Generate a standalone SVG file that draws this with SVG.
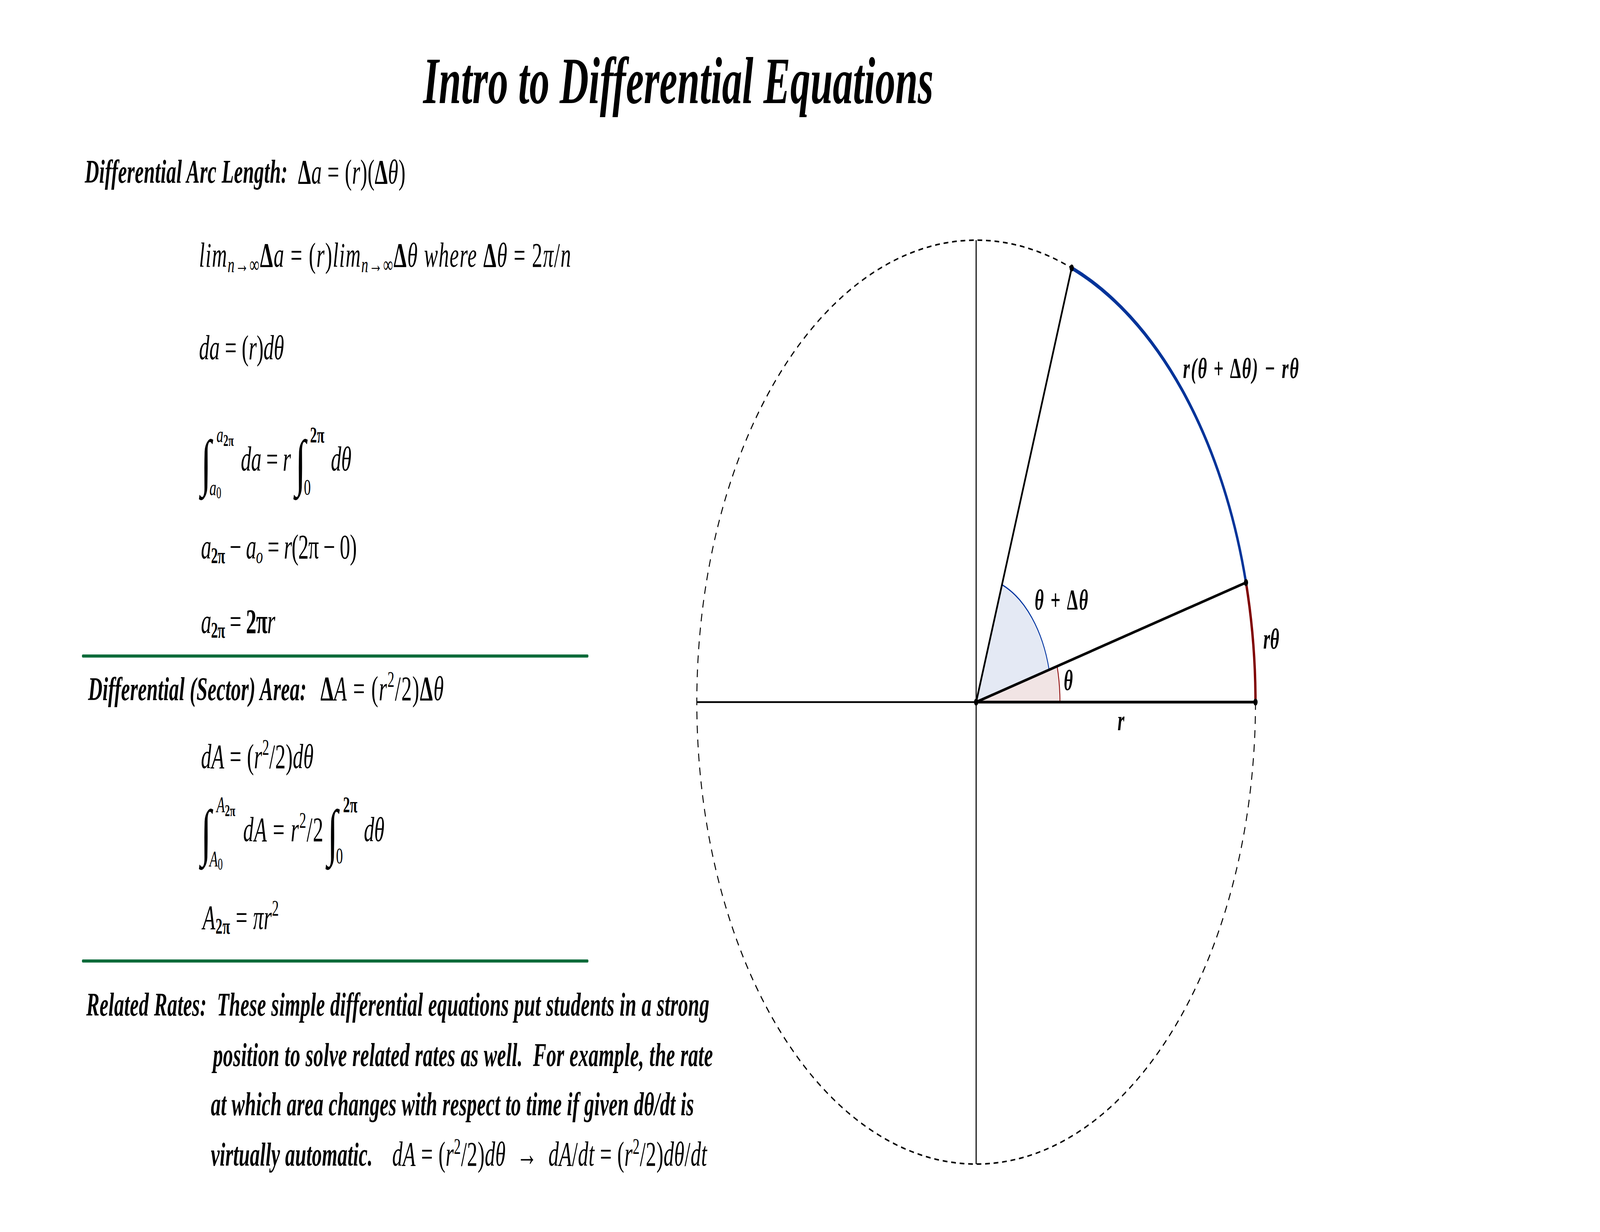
<svg xmlns="http://www.w3.org/2000/svg" width="6776" height="3155" viewBox="0 0 6776 3155" preserveAspectRatio="none" style="width:100vw;height:100vh;display:block">
<style>
text { font-family: "Liberation Serif", "Times New Roman", serif; fill: #000; }
.title { font-weight: bold; font-style: italic; font-size: 170px; }
.h { font-weight: bold; font-style: italic; font-size: 84px; white-space: pre; }
.m { font-size: 88px; font-style: normal; white-space: pre; }
.lab { font-size: 74px; font-weight: bold; font-style: italic; white-space: pre; }
.i { font-style: italic; }
.b { font-weight: bold; }
.sub { font-size: 58px; }
.int { font-size: 160px; font-style: italic; }
.sep { stroke: #0b6b3a; stroke-width: 8; stroke-linecap: round; }
.axis { stroke: #000; stroke-width: 4.5; fill: none; }
.rad { stroke: #000; stroke-width: 7; fill: none; }
.dot { fill: #000; }
</style>
<rect width="6776" height="3155" fill="#fff"/>

<g id="title">
<text class="title" x="1792" y="264" textLength="2161">Intro to Differential Equations</text>
</g>

<g id="arc-length">
<text class="h" x="359" y="468" textLength="859">Differential Arc Length:</text>
<text class="m" x="1262" y="470" textLength="455"><tspan class="b">Δ</tspan><tspan class="i">a</tspan> = (<tspan class="i">r</tspan>)(<tspan class="b">Δ</tspan><tspan class="i">θ</tspan>)</text>

<text class="m" x="843" y="683" textLength="1575"><tspan class="i">lim</tspan><tspan class="i sub" dy="14">n</tspan><tspan class="sub">→∞</tspan><tspan class="b" dy="-14">Δ</tspan><tspan class="i">a</tspan> = (<tspan class="i">r</tspan>)<tspan class="i">lim</tspan><tspan class="i sub" dy="14">n</tspan><tspan class="sub">→∞</tspan><tspan class="b" dy="-14">Δ</tspan><tspan class="i">θ where </tspan><tspan class="b">Δ</tspan><tspan class="i">θ</tspan> = 2<tspan class="i">π</tspan>/<tspan class="i">n</tspan></text>

<text class="m" x="843" y="920" textLength="360"><tspan class="i">da</tspan> = (<tspan class="i">r</tspan>)<tspan class="i">dθ</tspan></text>

<text class="int" x="851" y="1238">∫</text>
<text class="m i sub" x="917" y="1132">a<tspan font-size="42" dy="10" font-style="normal" font-weight="bold">2π</tspan></text>
<text class="m i sub" x="887" y="1268">a<tspan font-size="42" dy="8" font-style="normal">0</tspan></text>
<text class="m" x="1020" y="1205" textLength="212"><tspan class="i">da</tspan> = <tspan class="i">r</tspan></text>
<text class="int" x="1251" y="1238">∫</text>
<text class="m sub b" x="1313" y="1133">2π</text>
<text class="m sub" x="1287" y="1267">0</text>
<text class="m i" x="1401" y="1205">dθ</text>

<text class="m" x="851" y="1430" textLength="660"><tspan class="i">a</tspan><tspan class="sub b" dy="12">2π</tspan><tspan dy="-12"> − </tspan><tspan class="i">a</tspan><tspan class="sub i" dy="12">o</tspan><tspan dy="-12"> = </tspan><tspan class="i">r</tspan>(2π − 0)</text>

<text class="m" x="851" y="1621" textLength="315"><tspan class="i">a</tspan><tspan class="sub b" dy="12">2π</tspan><tspan dy="-12"> = </tspan><tspan class="b">2π</tspan><tspan class="i">r</tspan></text>

<line class="sep" x1="351" y1="1680" x2="2488" y2="1680"/>
</g>

<g id="sector-area">
<text class="h" x="373" y="1793" textLength="925">Differential (Sector) Area:</text>
<text class="m" x="1357" y="1793" textLength="522"><tspan class="b">Δ</tspan><tspan class="i">A</tspan> = (<tspan class="i">r</tspan><tspan class="sub" dy="-34">2</tspan><tspan dy="34">/2)</tspan><tspan class="b">Δ</tspan><tspan class="i">θ</tspan></text>

<text class="m" x="851" y="1967" textLength="477"><tspan class="i">dA</tspan> = (<tspan class="i">r</tspan><tspan class="sub" dy="-34">2</tspan><tspan dy="34">/2)</tspan><tspan class="i">dθ</tspan></text>

<text class="int" x="851" y="2185">∫</text>
<text class="m i sub" x="917" y="2080">A<tspan font-size="42" dy="10" font-style="normal" font-weight="bold">2π</tspan></text>
<text class="m i sub" x="887" y="2219">A<tspan font-size="42" dy="8" font-style="normal">0</tspan></text>
<text class="m" x="1030" y="2154" textLength="339"><tspan class="i">dA</tspan> = <tspan class="i">r</tspan><tspan class="sub" dy="-34">2</tspan><tspan dy="34">/2</tspan></text>
<text class="int" x="1387" y="2185">∫</text>
<text class="m sub b" x="1453" y="2080">2π</text>
<text class="m sub" x="1423" y="2211">0</text>
<text class="m i" x="1541" y="2154">dθ</text>

<text class="m" x="858" y="2379" textLength="323"><tspan class="i">A</tspan><tspan class="sub b" dy="12">2π</tspan><tspan dy="-12"> = </tspan><tspan class="i">πr</tspan><tspan class="sub" dy="-34">2</tspan></text>

<line class="sep" x1="351" y1="2461" x2="2488" y2="2461"/>
</g>

<g id="related-rates">
<text class="h" x="365" y="2601" textLength="2639">Related Rates:  These simple differential equations put students in a strong</text>
<text class="h" x="902" y="2730" textLength="2117">position to solve related rates as well.  For example, the rate</text>
<text class="h" x="893" y="2856" textLength="2046">at which area changes with respect to time if given dθ/dt is</text>
<text class="h" x="893" y="2985" textLength="685">virtually automatic.</text>
<text class="m" x="1661" y="2985" font-size="78" textLength="1333"><tspan class="i">dA</tspan> = (<tspan class="i">r</tspan><tspan class="sub" font-size="50" dy="-30">2</tspan><tspan dy="30">/2)</tspan><tspan class="i">dθ</tspan>  →  <tspan class="i">dA</tspan>/<tspan class="i">dt</tspan> = (<tspan class="i">r</tspan><tspan class="sub" font-size="50" dy="-30">2</tspan><tspan dy="30">/2)</tspan><tspan class="i">dθ</tspan>/<tspan class="i">dt</tspan></text>
</g>

<g id="circle-diagram">
<g id="wedges">
<path d="M4134,1798 L4489,1798 A355,355 0 0 0 4476.9,1706.1 Z" fill="#f1e4e4"/>
<path d="M4134,1798 L4443.1,1715.2 A320,320 0 0 0 4243.4,1497.3 Z" fill="#e4e9f4"/>
<path d="M4489,1798 A355,355 0 0 0 4476.9,1706.1" fill="none" stroke="#8b0000" stroke-width="3.5"/>
<path d="M4443.1,1715.2 A320,320 0 0 0 4243.4,1497.3" fill="none" stroke="#0033a0" stroke-width="3.5"/>
</g>
<circle id="circle" cx="4134" cy="1798" r="1183" fill="none" stroke="#000" stroke-width="4" stroke-dasharray="20 16"/>
<g id="axes">
<line class="axis" x1="2951" y1="1798" x2="5317" y2="1798"/>
<line class="axis" x1="4134" y1="615" x2="4134" y2="2981"/>
</g>
<g id="arcs">
<path d="M5276.7,1491.8 A1183,1183 0 0 0 4538.6,686.3" fill="none" stroke="#003399" stroke-width="10"/>
<path d="M5317,1798 A1183,1183 0 0 0 5276.7,1491.8" fill="none" stroke="#800000" stroke-width="10"/>
</g>
<g id="radii">
<line class="rad" x1="4134" y1="1798" x2="5317" y2="1798"/>
<line class="rad" x1="4134" y1="1798" x2="5276.7" y2="1491.8"/>
<line class="rad" x1="4134" y1="1798" x2="4538.6" y2="686.3" stroke-width="5.5"/>
</g>
<g id="points">
<circle class="dot" cx="4134" cy="1798" r="9"/>
<circle class="dot" cx="5317" cy="1798" r="9"/>
<circle class="dot" cx="5276.7" cy="1491.8" r="9"/>
<circle class="dot" cx="4538.6" cy="686.3" r="9"/>
</g>
<g id="labels">
<text class="lab" x="5010" y="968" textLength="490">r(θ + <tspan font-style="normal">Δ</tspan>θ) − rθ</text>
<text class="lab" x="4382" y="1561" textLength="226">θ + <tspan font-style="normal">Δ</tspan>θ</text>
<text class="lab" x="4505" y="1767">θ</text>
<text class="lab" x="5350" y="1661">rθ</text>
<text class="lab" x="4733" y="1870">r</text>
</g>
</g>
</svg>
